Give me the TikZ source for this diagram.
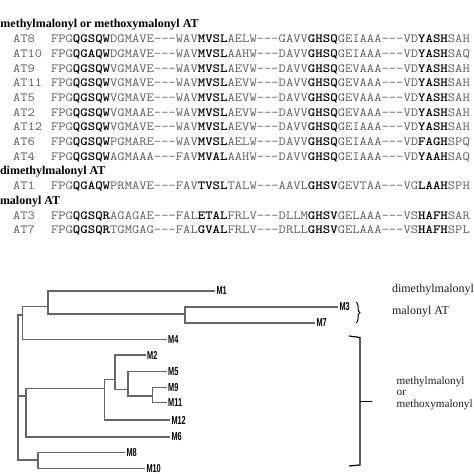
\documentclass[tikz,border=0pt]{standalone}
\usepackage{fontspec}
\newfontfamily\serifx{Liberation Serif}
\newfontfamily\labfont{Liberation Sans}
\usetikzlibrary{decorations.pathreplacing}
\definecolor{seqgray}{HTML}{5E5E5E}
\definecolor{treegray}{HTML}{666666}
\definecolor{txtdark}{HTML}{1E1E1E}
\newcommand\mo[1]{{\bfseries\color{black}#1}}
\newcommand\gp{-\kern0pt-\kern0pt-}
\newcommand\sqtext[1]{\scalebox{1.144}[1]{\ttfamily\fontsize{12.4}{12.4}\selectfont\color{seqgray}#1}}
\newcommand\mtxt[1]{\scalebox{0.64}[1]{\labfont\bfseries\fontsize{11.5}{11.5}\selectfont #1}}
\tikzset{
  seq/.style={anchor=base west, inner sep=0pt, outer sep=0pt},
  hdr/.style={anchor=base west, inner sep=0pt, outer sep=0pt, font=\serifx\bfseries\fontsize{12}{12}\selectfont},
  rtxt/.style={anchor=base west, inner sep=0pt, outer sep=0pt, text=txtdark, font=\serifx\fontsize{12}{12}\selectfont},
  rtxs/.style={anchor=base west, inner sep=0pt, outer sep=0pt, text=txtdark, font=\serifx\fontsize{11.2}{11.2}\selectfont},
  mlab/.style={anchor=west, inner sep=0pt, outer sep=0pt, xshift=1.5pt, text=black},
  branch/.style={draw=treegray, line width=1.3pt},
}
\begin{document}
\begin{tikzpicture}[x=1pt,y=-1pt]
\useasboundingbox (0,0) rectangle (474,474);
\clip (0,0) rectangle (474,474);
% ---------- alignment ----------
\node[hdr] (h1) at (0.5,27.8) {methylmalonyl or methoxymalonyl AT};
\node[seq] (l8)  at (13,42.7)  {\sqtext{AT8}};
\node[seq] (s8)  at (51,42.7)  {\sqtext{FPG\mo{QGSQW}DGMAVE\gp WAV\mo{MVSL}AELW\gp GAVV\mo{GHSQ}GEIAAA\gp VD\mo{YASH}SAH}};
\node[seq] (l10) at (13,57.4)  {\sqtext{AT10}};
\node[seq] (s10) at (51,57.4)  {\sqtext{FPG\mo{QGAQW}DGMAVE\gp WAV\mo{MVSL}AAHW\gp DAVV\mo{GHSQ}GEIAAA\gp VD\mo{YASH}SAQ}};
\node[seq] (l9)  at (13,72.1)  {\sqtext{AT9}};
\node[seq] (s9)  at (51,72.1)  {\sqtext{FPG\mo{QGSQW}VGMAVE\gp WAV\mo{MVSL}AEVW\gp DAVV\mo{GHSQ}GEVAAA\gp VD\mo{YASH}SAH}};
\node[seq] (l11) at (13,86.8)  {\sqtext{AT11}};
\node[seq] (s11) at (51,86.8)  {\sqtext{FPG\mo{QGSQW}VGMAVE\gp WAV\mo{MVSL}AEVW\gp DAVV\mo{GHSQ}GEVAAA\gp VD\mo{YASH}SAH}};
\node[seq] (l5)  at (13,101.5) {\sqtext{AT5}};
\node[seq] (s5)  at (51,101.5) {\sqtext{FPG\mo{QGSQW}VGMAVE\gp WAV\mo{MVSL}AEVW\gp DAVV\mo{GHSQ}GEVAAA\gp VD\mo{YASH}SAH}};
\node[seq] (l2)  at (13,116.2) {\sqtext{AT2}};
\node[seq] (s2)  at (51,116.2) {\sqtext{FPG\mo{QGSQW}VGMAAE\gp WAV\mo{MVSL}AEVW\gp DAVV\mo{GHSQ}GEVAAA\gp VD\mo{YASH}SAH}};
\node[seq] (l12) at (13,130.9) {\sqtext{AT12}};
\node[seq] (s12) at (51,130.9) {\sqtext{FPG\mo{QGSQW}VGMAVE\gp WAV\mo{MVSL}AEVW\gp DAVV\mo{GHSQ}GEIAAA\gp VD\mo{YASH}SAH}};
\node[seq] (l6)  at (13,145.6) {\sqtext{AT6}};
\node[seq] (s6)  at (51,145.6) {\sqtext{FPG\mo{QGSQW}PGMARE\gp WAV\mo{MVSL}AELW\gp DAVV\mo{GHSQ}GEIAAA\gp VD\mo{FAGH}SPQ}};
\node[seq] (l4)  at (13,160.3) {\sqtext{AT4}};
\node[seq] (s4)  at (51,160.3) {\sqtext{FPG\mo{QGSQW}AGMAAA\gp FAV\mo{MVAL}AAHW\gp DAVV\mo{GHSQ}GEIAAA\gp VD\mo{YAAH}SAQ}};
\node[hdr] (h2) at (0,174.8) {dimethylmalonyl AT};
\node[seq] (l1)  at (13,189.7) {\sqtext{AT1}};
\node[seq] (s1)  at (51,189.7) {\sqtext{FPG\mo{QGAQW}PRMAVE\gp FAV\mo{TVSL}TALW\gp AAVL\mo{GHSV}GEVTAA\gp VG\mo{LAAH}SPH}};
\node[hdr] (h3) at (0,204.2) {malonyl AT};
\node[seq] (l3)  at (13,219.1) {\sqtext{AT3}};
\node[seq] (s3)  at (51,219.1) {\sqtext{FPG\mo{QGSQR}AGAGAE\gp FAL\mo{ETAL}FRLV\gp DLLM\mo{GHSV}GELAAA\gp VS\mo{HAFH}SAR}};
\node[seq] (l7)  at (13,233.8) {\sqtext{AT7}};
\node[seq] (s7)  at (51,233.8) {\sqtext{FPG\mo{QGSQR}TGMGAG\gp FAL\mo{GVAL}FRLV\gp DRLL\mo{GHSV}GELAAA\gp VS\mo{HAFH}SPL}};
% ---------- tree ----------
\coordinate (r)     at (18,396);
\coordinate (n1374) at (22.7,315);
\coordinate (n137)  at (48,306.7);
\coordinate (n37)   at (185,314);
\coordinate (n6)    at (26,396);
\coordinate (n12)   at (104.3,388.3);
\coordinate (n2)    at (115,379.3);
\coordinate (n5)    at (128,389.3);
\coordinate (n911)  at (152.3,396);
\coordinate (n810)  at (38,460);
\coordinate (eM1)  at (215,291);
\coordinate (eM3)  at (338,307);
\coordinate (eM7)  at (315,323);
\coordinate (eM4)  at (166.7,339.3);
\coordinate (eM2)  at (145.7,355);
\coordinate (eM5)  at (166.7,371.7);
\coordinate (eM9)  at (166.7,387.7);
\coordinate (eM11) at (166.7,402.7);
\coordinate (eM12) at (170,420);
\coordinate (eM6)  at (170,437);
\coordinate (eM8)  at (125,452.7);
\coordinate (eM10) at (145,468.3);
\path[branch] (r) |- (n1374) (r) |- (n6) (r) |- (n810);
\path[branch] (n1374) |- (n137) (n1374) |- (eM4);
\path[branch] (n137) |- (eM1) (n137) |- (n37);
\path[branch] (n37) |- (eM3) (n37) |- (eM7);
\path[branch] (n6) |- (n12) (n6) |- (eM6);
\path[branch] (n12) |- (n2) (n12) |- (eM12);
\path[branch] (n2) |- (eM2) (n2) |- (n5);
\path[branch] (n5) |- (eM5) (n5) |- (n911);
\path[branch] (n911) |- (eM9) (n911) |- (eM11);
\path[branch] (n810) |- (eM8) (n810) |- (eM10);
\node[mlab] (tM1)  at (eM1)  {\mtxt{M1}};
\node[mlab] (tM3)  at (eM3)  {\mtxt{M3}};
\node[mlab] (tM7)  at (eM7)  {\mtxt{M7}};
\node[mlab] (tM4)  at (eM4)  {\mtxt{M4}};
\node[mlab] (tM2)  at (eM2)  {\mtxt{M2}};
\node[mlab] (tM5)  at (eM5)  {\mtxt{M5}};
\node[mlab] (tM9)  at (eM9)  {\mtxt{M9}};
\node[mlab] (tM11) at (eM11) {\mtxt{M11}};
\node[mlab] (tM12) at (eM12) {\mtxt{M12}};
\node[mlab] (tM6)  at (eM6)  {\mtxt{M6}};
\node[mlab] (tM8)  at (eM8)  {\mtxt{M8}};
\node[mlab] (tM10) at (eM10) {\mtxt{M10}};
% ---------- brackets ----------
\coordinate (brA) at (356,302);
\coordinate (brB) at (356,323);
\draw[decorate, decoration={brace, amplitude=4pt}, line width=1pt] (brA) -- (brB);
\coordinate (bt1) at (349,336);
\coordinate (bt2) at (360,337.5);
\coordinate (bb2) at (360,465);
\coordinate (bb1) at (349,466);
\coordinate (bm1) at (360,401.5);
\coordinate (bm2) at (372,401.5);
\draw[line width=1.2pt] (bt1) -- (bt2) -- (bb2) -- (bb1);
\draw[line width=1.2pt] (bm1) -- (bm2);
% ---------- right labels ----------
\node[rtxt] (g1) at (392,292.3) {dimethylmalonyl};
\node[rtxt] (g2) at (392,314) {malonyl AT};
\node[rtxs] (g3) at (396.7,384) {methylmalonyl};
\node[rtxs] (g4) at (396.7,395.7) {or};
\node[rtxs] (g5) at (396.7,407.3) {methoxymalonyl};
\end{tikzpicture}
\end{document}
